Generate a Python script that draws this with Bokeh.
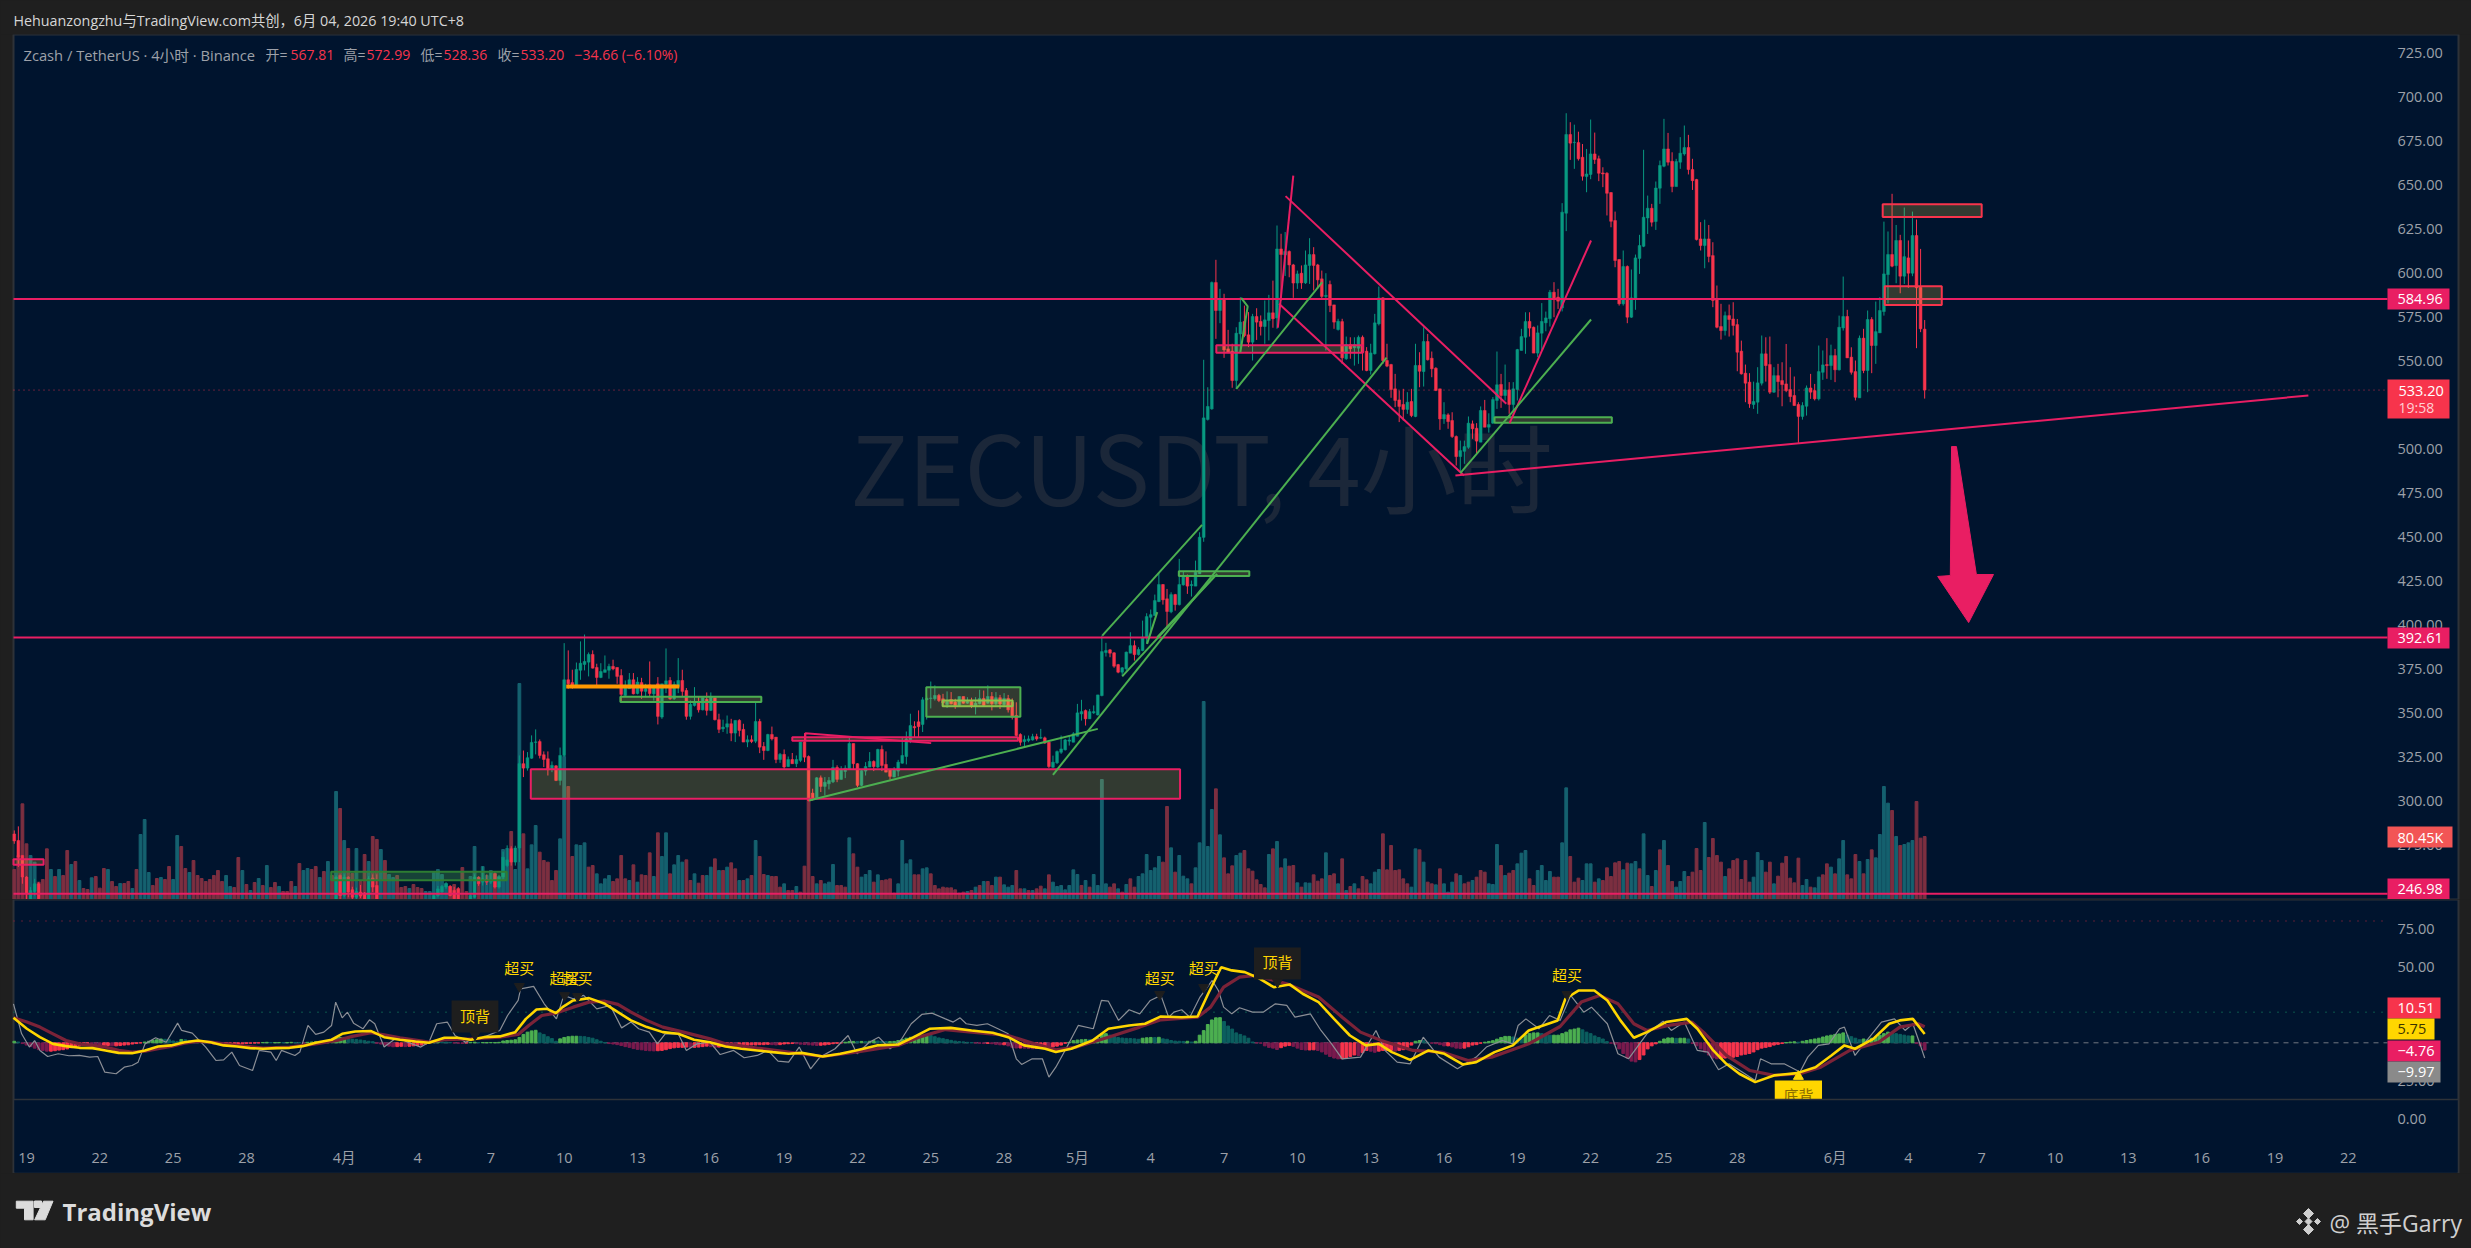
from bokeh.plotting import figure
from bokeh.layouts import column
from bokeh.embed import file_html
from bokeh.resources import INLINE
from bokeh.core.properties import value
from bokeh.models import (Range1d, LinearAxis, FixedTicker, PrintfTickFormatter, Label, Span)

# ---------- candles (bar index = 4h bars counted from 19 Mar 00:00) ----------
candle_bars = list(range(-3, 4)) + list(range(76, 87)) + list(range(100, 107)) + list(range(109, 467))
opens = [281,277.3,268.8,256.5,243.8,248.3,252.7,
 243,257.4,246,256.5,249.3,245,248,247.4,243.8,256,251.7,
 243.8,246,248,250.8,251.2,248.9,249.8,
 243.8,245,256.5,253.6,255.1,253.6,258.4,250.8,256.5,263,272.6,265,
 273,320.9,318.4,324,333,333.5,326,323.7,317.6,319.7,
 311.4,325.6,368.6,367,365,374,377.3,378.6,383,375.6,
 369.9,372.8,374,376.2,375.6,371,359.7,363.5,368.6,360.8,
 367,362,365.7,360.6,366.3,347.4,366,368.2,357.8,364.8,
 368.2,362.5,347.8,354,356.3,351.5,357.4,351.2,358.4,345.9,
 340.7,341.7,343.6,338.3,345.5,340.4,333.2,334.5,333.7,344.9,
 330.7,328.4,337.5,336,323.3,326.2,319.3,323.3,320.9,322.8,
 333.2,325,304.2,301.5,312.9,308,309.5,310.6,318.8,312,
 316.5,317.6,332.4,320.9,308.6,316.7,319,322.2,319,329,
 320.5,317.6,313.3,316.7,321.2,325,334.5,342,344.7,343.2,
 357.2,358,357.8,359.7,357.8,354.6,357.4,355.9,354,359.1,
 355.3,356.3,353.5,355,358,355.3,359.1,355,358.4,354.5,
 358,355.8,348.3,337.5,333.5,334,334.4,336.3,335.4,335.6,
 333.1,318.9,321.4,327.4,328.8,333.7,333.1,336.5,349.2,351.1,
 346.4,349.8,348.6,359.6,384.1,385.6,383.9,377.2,372.9,374.8,
 383.7,388,382.9,385.2,392.4,404.1,405.1,413,422.7,414.6,
 407.2,417,411.3,422.5,427.4,422.1,421.8,428.8,449.5,516.5,
 522.5,594.3,578.4,585,556.6,555.3,538.6,565.1,572.2,564.6,
 560.4,575,572.2,569.3,572.7,577.1,574.2,613.4,610,612,
 604.3,594,599.6,594.1,604,610.2,604.3,596.4,586.4,593.2,
 581.6,567.6,572.1,551,559.1,557.2,557,563.2,555.3,544.3,
 553.8,570.8,585.6,550,547.7,533.9,527.6,525,522.2,526.7,
 518.2,547.2,543.7,560.8,551.3,545.6,533.9,516.8,519.1,515.9,
 506.8,495.4,498.4,500.7,514,511.5,503.6,521.6,512.1,514.4,
 527.3,536.4,530.1,533.3,525,533.5,555.7,563.2,572.2,568.9,
 554.2,565.5,571.4,573.8,588.8,586,579.9,633.7,678.4,673.8,
 673.8,665.5,654.5,655.7,667.4,664.6,656.6,656.4,645.4,629.5,
 607.4,582.2,603.4,574.6,585,608,614.9,631,636.5,629,
 647.9,660.4,670.2,663.2,648.8,662.7,667.4,671,658.5,652.8,
 619.1,615.3,619.1,609.6,585,569.3,567,575.5,573.6,570.4,
 555.3,542.8,537.7,525,526.3,537.1,553.8,547.7,532,541.4,
 538.6,536.7,533.5,530.1,525,518.2,524,534.4,532.9,528.2,
 543.3,547.7,547.1,552.8,544.7,568.5,575,551.9,543.7,528.8,
 562.7,544.3,573.3,558.5,565.7,577.8,598.8,610.2,603.9,618.2,
 597.9,608.3,599.6,621,591.6,567.81]
highs = [283,285.3,268.8,257,250.8,255.5,253.6,
 257.4,258,258,257,251,250.5,252,248,257,258,258,
 247,251.5,252,253.6,252,251,250.8,
 247,258,257,262.5,258,258.7,259.5,257.7,271,274.5,274,274.3,
 325.6,328.4,327.5,337,340.4,334.7,327.9,327.9,322.2,320.1,
 330.1,389.4,385.3,374.3,378.4,390.4,394.3,384.1,385.3,377.7,
 378,382.4,377.7,380,375.6,374.6,368.2,372.4,372.4,370.1,
 369.7,366.3,379,365.4,370.1,366.3,386.4,370.1,367.6,380.9,
 374.3,363.9,356.8,364.4,359.1,358.4,361.4,361.4,358.4,349.3,
 345.9,348.3,346.4,345.5,346.2,343.6,337,337,355.9,346.4,
 333.2,337.9,342,336,327,329,325,327,325.6,333.2,
 338.3,325.6,306.7,313.3,314.2,313.3,313.3,323.1,320,319.5,
 320,336.4,332.4,321.2,317.4,321.8,327.5,322.8,329.4,331.3,
 327.9,318,319,323.1,335.6,339.2,349.3,345,351.2,358.7,
 359,367.6,365.4,360.6,360.6,362,361.6,357.8,359.1,359.1,
 358.7,358.4,358.7,362.9,362.5,365.4,361.6,361.6,360,361,
 360,358,355.8,338.2,336.9,336.9,337.9,337.9,340.7,336.3,
 333.1,325.5,328.4,336.9,335,336.9,338.8,354.9,357.2,351.7,
 352,354,360,393.7,389.6,386.1,384.3,377.6,375.8,384.6,
 395.6,390.9,387.1,402.2,406.4,408.5,417,429.1,423,420.2,
 418.3,417.4,437.3,430.3,428.4,425,436.3,452.4,550.4,534.8,
 594.9,607.2,590.7,587.9,567.4,559.5,568.9,586,581.2,577.5,
 576.5,579.7,575.6,584.1,587.3,595.4,626.7,622,623,612.5,
 604.9,601.1,604,612.5,619.5,614.4,604.9,601.1,599.6,595.4,
 581.6,573.7,573.7,563.6,563.2,563.2,564.2,564.2,557.6,559.5,
 576.5,592,586,559.5,548.1,542.4,532.9,533.9,532,533.9,
 559.5,554.7,568.9,565.1,555.1,546.2,533.9,526.3,520,520.6,
 507.4,504.5,504.5,518.2,515.9,514.4,523.9,527.6,520,529.2,
 555.1,542.4,547.7,537.7,537.7,556.6,568,577.4,577.4,569.3,
 569.9,582.6,577.8,590.1,594.5,590.7,639.4,690.5,685.4,684,
 680,673,670.2,686.9,679.5,666.4,659.8,657,645.6,634.6,
 607.4,612.5,604,601.7,610.2,621.4,669.7,643.7,639,651.7,
 663.6,687.3,679.3,668.3,664.6,676.9,683.5,678.2,664.6,653.2,
 628.6,630,627,617.2,592.6,582.2,577.8,581.8,583.1,573.6,
 561.3,547.7,542.8,538,546.2,564.2,563.2,563.6,546.2,548.1,
 549,559.4,546.2,540.9,526.3,526.3,535.8,542.4,536.7,558.5,
 555.7,562.7,559,556.6,575.5,597.7,578.8,557.5,550,564.2,
 568,578.4,574.6,583.5,586,628.9,623.3,644.7,627,621.4,
 636.9,618.2,634.6,630.1,613.4,572.99]
lows = [275.4,262.2,252.7,243,243,246,243.5,
 243,243.8,245,245,244,244,244.5,243,243,248,243,
 243,245,247,249.8,245.5,243.5,243,
 243,244.5,251.5,251.7,252,252.5,250,250,255,262.1,263,263,
 265,313.3,317,323.7,326.2,323.9,319,314.2,316.1,311,
 308.6,325,363.5,363.5,365,368.6,373.9,370.5,375,364.8,
 369.5,372.8,369.2,374,366.3,355.9,359.1,363.5,360.3,360.3,
 357.8,358.7,359.1,356.8,343.2,346.4,361,357.2,357.2,361,
 359.1,345.9,346,353.4,350,351.2,348.3,350.8,345.5,338.3,
 338.9,337.9,333.7,333.2,336.4,333.2,330.3,332.6,332.6,326.9,
 323.1,328,334.1,321.2,321.4,318,319,320.9,319,321.8,
 321.8,299.5,300,301,304.8,302.9,306.3,309.9,310.4,311.8,
 312.7,317.6,317.6,307.6,308.2,314.2,319,316.7,318.4,316.7,
 316.1,311.8,313.3,313.7,320.9,320.5,332.6,336,336,338.9,
 346,352.3,356.8,355.9,353.4,352.6,354.6,352.1,353.4,355,
 355,352.5,348.9,354.6,353.4,355,351.2,354,352,353,
 350,346,336.3,331.2,330.7,333.1,334,334,335,332.2,
 318.5,318.5,320.8,326.5,328.4,331.2,333.1,336.5,345.4,342.6,
 346.4,349.2,348.3,359.2,381.8,381.4,375.4,372.3,371,373.8,
 383.7,379.5,382.4,384.8,389,394.7,405.1,412.7,411.3,398.5,
 406.4,407.9,410.8,422.1,417.4,415.9,421.8,428.8,447,515.9,
 522,562.3,571.2,551.5,554.2,534.5,533.9,554.7,563.2,557.6,
 550,561.7,564.2,559.5,561.4,568.6,568,584,598,597.3,
 585.6,590.7,590.7,593.5,593.5,589.8,590.7,584.5,555.7,577.5,
 568,567,548.1,550.4,551,547.1,548.1,544.3,543.9,542,
 553.4,569.9,548.1,546.2,528.8,523.5,515,515.9,519.7,517.8,
 517.8,534.8,535.2,550,540.5,532.6,510.6,514,511.2,506,
 490.3,486.5,491.3,499.8,505.5,497,503.6,512.1,509,514,
 522.5,523.1,527.3,519.7,520.6,527.3,555.7,553.8,563.6,554.2,
 551.9,555.7,566.6,569.3,574.6,579.3,577.9,623.5,664,658.9,
 663.6,652.2,645.6,653,661.7,651.9,648.5,632.4,625.7,603,
 581.2,581.2,571.2,574.2,578.8,599.2,614.4,621.9,626.1,624.2,
 639,659.8,660.8,645.6,648.8,658.9,666.4,655.7,646.9,618.2,
 612.5,602.4,605.8,580.3,568.3,561.9,564.2,563.6,564.2,543.9,
 542,526.3,523.1,522.5,519.7,535.8,538,531,531.6,529.1,
 524,532,526.3,524.4,503.2,516.4,518.7,528.2,527.3,527.3,
 539,539.6,539,537.7,544.3,567,551.5,542,527.3,528.8,
 542.8,532,542.8,548.1,565.7,575.5,582.5,603,593.9,588.2,
 593.5,591.3,597.9,557,566.1,528.36]
closes = [277,267.8,256.5,247,248.9,252.7,244.2,
 256.5,246,256.5,248,245,248.3,245.7,243.8,255.5,250.8,243.8,
 246,249.8,251.2,252.7,246,244.2,243.8,
 246,256.5,252.7,255.5,253.6,255.1,250.8,256.5,267.8,266.3,265,273,
 321,318.4,324.3,333,333.3,325.6,323.3,317.5,320,311.4,
 325.6,368.6,366.3,364.8,374.5,378,379,383,375.2,369.9,
 373.3,374.3,376.2,374.8,370.5,360.3,363.9,368.6,360.6,367.3,
 362.1,363.5,360.8,365.4,347.8,366.3,368,357.8,366,368.2,
 362,347.8,354.6,356,351.5,358.4,351.2,358.7,345.9,340.4,
 341.7,343.6,338.3,345.5,339.8,333.2,334.5,333.5,344.9,330.3,
 328.4,337.5,335,323.3,326.2,319,323.3,320.9,323.3,333.2,
 324.6,300,301,312.9,308,310.4,311.4,318.8,312,317.8,
 318.4,332.4,320.9,308.6,317,319.3,322.2,319.3,329,319.9,
 316.1,313.7,317.6,321.8,325.6,335,342.6,341.3,342,357.2,
 358,358.2,359.7,356.8,355.5,356.3,355,354,359.1,355.3,
 356.3,353.4,355.3,358,354,359.1,355,358.4,354.9,358,
 351.5,347.3,336.9,333.1,334.6,335,336.3,335,335.8,332.6,
 319.3,321.8,327.8,329.3,334.4,334.4,337.9,349.8,350.5,346.4,
 350.5,350.5,360,384.6,385.2,383.7,376.3,372.9,375.4,384.3,
 388,382.9,385.8,392.8,404.5,405.6,413.6,422.7,414,407.4,
 417,411.3,422.7,427.8,421.8,422.7,429.7,449.6,517.4,523.9,
 594.3,578.4,585,556,554.5,538.6,565.5,571.8,564.2,560.4,
 575,571.8,569.3,573.1,577.1,573.7,613.4,610.2,612,604.3,
 594,599.2,594.1,604.3,610.2,604,595.8,586.4,587,581.2,
 571.8,572.3,551.5,559.1,556.6,559.1,563.2,554.7,544.3,554.3,
 571.4,585.6,550,546.8,533.5,527.3,523.9,522.2,526.3,518.7,
 547.2,543.9,560.8,550.4,545.3,533,516.8,519.3,515.3,506.8,
 495.4,498.8,501.1,514.4,511.2,504.2,521.6,512.1,513.6,527.8,
 536.2,530.1,533.3,525,533.9,556.2,563.6,572.2,568.4,554.2,
 565.7,572.2,574.2,588.8,585.4,583.7,634.3,678.4,673.5,674,
 664.6,654.7,656,667.4,664.2,656.4,656,645,629.1,606.8,
 582.2,603.4,574.6,585.6,608.3,615.3,631.4,636.5,628.6,648,
 660.8,670.2,662.7,648.8,663,667.8,671,658.5,652.2,618.7,
 615.3,619.1,609.1,584.1,568.9,567,575.5,573.3,569.9,554.7,
 542.4,537.1,525.4,526.7,537.3,553.8,547.1,532,541.4,538,
 536.3,532.9,529.5,524.4,518.2,524.4,534.4,532,528.2,543.7,
 547.5,547.1,552.8,544.7,568.9,575,551.5,543.3,529.1,562.7,
 544.3,573.3,558.5,566.4,578.4,599.2,610.2,603.6,618.2,597.9,
 609,599.6,621,591.3,568,533.2]

VOL_K_PER_READ = 80.45 / 189
volume_read = [-90,-132,-287,-167,132,112,-52,-60,-152,90,
 -69,90,-72,-147,105,-114,57,-33,-30,65,
 -69,-34,-93,90,-54,-39,48,-48,-54,33,
 -90,195,240,81,-42,-63,66,-60,-99,60,
 192,-159,-93,81,-117,-72,-63,-54,-60,-72,
 -87,-54,72,39,-36,-126,87,-45,27,-51,
 63,-42,102,-36,-51,39,-24,-24,-54,39,
 -108,87,93,-90,-99,66,-84,114,-72,324,
 -273,177,-153,-78,153,-54,-135,114,-189,-180,
 150,-117,75,66,-72,-36,-39,33,-45,-36,
 -33,24,24,81,90,75,48,-39,-45,-33,
 -96,-24,69,159,-66,99,72,87,-78,69,
 150,153,-204,90,648,
 -197,92,164,222,-142,-117,-112,-57,-87,182,
 429,-339,-129,164,162,170,-97,-102,77,47,
 62,72,-54,-62,-132,-62,57,-104,52,-74,
 -72,-140,69,-200,129,200,-77,104,132,112,
 -119,-57,77,-49,-72,72,97,-122,87,-87,
 97,-110,-92,57,-57,62,-72,177,-129,-75,
 72,-69,-69,-37,47,-27,-27,39,-22,-100,
 -297,-69,47,-57,47,52,105,-42,-42,-37,
 185,-137,-97,67,75,87,-52,74,-57,-59,
 -62,-19,47,177,107,119,-74,-74,92,95,
 -77,-42,-32,-37,-35,-35,-29,-19,-22,24,
 -27,37,-42,54,-54,-42,67,-67,44,37,
 42,-87,-32,32,-27,27,-32,-40,32,-74,
 52,39,42,29,42,89,75,-42,57,-37,
 75,42,
 360,47,-37,-47,32,-22,45,-62,-37,69,
 77,135,87,95,129,-112,-279,155,-82,132,
 70,62,-47,95,170,594,159,270,-332,194,
 -125,-77,-101,132,139,-147,-92,-85,-59,-45,
 -35,135,-152,174,-95,122,-100,-102,50,-37,
 50,49,-74,-55,-62,140,-72,-77,47,-122,
 27,-39,47,-32,-69,-59,47,82,90,-197,
 -89,-162,-87,-89,-62,-47,37,152,-149,112,
 -52,-47,44,-92,47,22,52,-77,72,-47,
 -52,57,-67,-87,-82,47,45,165,-102,72,
 -79,-87,107,139,147,-62,-42,87,102,57,
 84,-67,-67,170,335,-129,-52,-64,57,107,
 107,-52,62,-57,-95,-69,-110,-114,89,-109,
 107,114,-92,197,
 72,-39,87,-149,177,-102,-54,37,54,84,
 -69,-82,-153,-87,231,-126,-183,-132,-112,69,
 -92,-117,-122,-60,-117,-52,67,141,117,-82,
 -112,47,-70,-109,-129,-64,-50,-124,42,60,
 -37,35,67,-74,-107,97,-77,122,177,-74,
 -62,-135,114,-77,120,-149,125,195,339,289,
 -267,189,-162,165,170,177,-294,-184,-189]

# ---------- oscillator ----------
signal_bars = [-3.2,0.1,3.3,6.5,9.7,13,16.2,19.4,22.6,25.9,29.1,32.3,35.5,38.8,42,45.2,48.4,51.7,54.9,58.1,61.3,64.6,67.8,71,74.9,77.5,80.7,84.6,87.8,91.7,95.5,98.8,102.6,105.8,109.1,112.3,116.2,120,122.6,125.2,127.8,130,131.6,134.2,138.1,142,145.2,148.4,152.3,156.2,160,163.9,167.8,171.6,175.5,179.4,183.2,187.1,190.3,195.5,
 199.8,203.6,208.8,214,217.8,221.7,226.9,232,237.2,241,244.9,250.1,252.7,256.5,261.7,265.6,270.7,274.6,278.5,283.6,287.5,290.1,293.3,295.9,299.1,302.3,306.2,310.1,313.3,317.2,321,324.9,328.8,332,335.2,339.7,344.2,348.1,352.6,355.9,360.4,364.9,368.8,375.9,377.8,381,384.9,388.1,391.3,394.6,397.8,
 402.5,407.6,410.2,414.1,417.3,420.5,424.4,429,434.7,439.2,443.1,446.3,448.9,453.4,457.3,459.9,463.1,466]
signal_vals = [16.4,9.2,3.7,-0.7,-2.2,-3.3,-3.5,-5,-6.6,-6.8,-5,-2.4,-1.7,0.4,1.5,0.4,-1.7,-2.4,-3.5,-3.9,-3.5,-3.3,-2.2,0,2,5.9,7.4,7.7,3.7,2,0.9,0,3.3,3.3,2,3.7,4.2,7,15.7,21.9,22.3,19.5,23.4,27.8,29.3,25.6,20.1,14.7,10.3,7,5.9,2,0.4,-2.4,-3.9,-5,-6.1,-7.2,-6.6,-9,
 -7.2,-5,-1.7,-1.1,3.7,9.2,9.8,8.1,6.6,3.7,-1.7,-3.9,-6.1,-3.9,1.5,9.2,11.4,12.5,17.3,16.8,17.3,32.2,49.6,47.5,46.4,42.7,36.5,38.3,32.2,26.7,15.7,4.8,-1.7,-0.7,-6.1,-11.2,-5,-7.2,-14.2,-12.7,-6.1,-1.7,8.1,14.7,28.9,34.3,34.3,27.8,14.7,3.3,7,
 13.6,15.7,9.2,-5,-13.8,-20.3,-25.8,-21.4,-19.9,-16,-8.3,-1.7,-3.9,2.6,12.5,14.7,15.7,5.75]
slow_bars = [-3.2,0.1,3.3,6.5,9.7,13,19.4,22.6,25.9,29.1,32.3,35.5,38.8,42,45.2,48.4,51.7,58.1,64.6,71,76.2,80,84.6,87.8,91.7,98.8,102.6,109.1,116.2,120.7,123.3,126.5,130,134.2,138.1,142,145.2,148.4,152.3,156.2,161.3,167.8,171.6,179.4,187.1,195.5,
 203.6,214,219.1,225.6,232,241,247.5,252.7,257.8,265.6,273.3,278.5,287.5,290.7,293.9,297.8,301.7,309.4,317.2,323,327.5,332.6,340.4,347.5,353.9,359.7,368.8,376.5,381.7,386.2,390.7,394.6,397.8,
 403.1,408.9,412.1,417.3,423.1,429,435.4,440.5,447.6,454.7,459.9,464.4,466]
slow_vals = [16.4,13.6,10.3,5.9,1.5,-0.7,-2.8,-5,-6.1,-5.5,-3.9,-2.4,-0.2,0.9,0.4,-0.7,-1.7,-3.5,-2.8,-0.7,1.5,4.2,6.6,5.2,3.3,0.4,2,2.6,3.7,5.5,11.4,17.9,19.5,23.4,26.7,27.3,25.2,20.1,14.7,10.3,7,2.6,-0.7,-3.5,-6.1,-9,
 -6.1,-1.7,3.7,8.7,7,4.8,-0.7,-4.6,-2.8,3.7,10.3,15.1,16.8,23.4,36.5,43.1,44.2,38.7,30,16.8,7,1.5,-5,-6.1,-11.6,-9.4,-0.7,10.7,26.7,31.1,25.6,12.5,8.1,
 11.4,13.6,5.9,-8.3,-18.2,-21.4,-20.3,-16,-5,0.4,10.3,12.5,10.51]
fast_bars = [-3.2,-1.2,0.7,2,3.3,5.2,7.8,10.4,13,15.5,17.5,19.2,22,24,25.9,27.4,29.1,31.7,34.3,37.1,38.1,40.7,44,46.5,48.4,50.4,52.3,55.5,57.1,60,61.3,62.6,65.9,67.1,69.1,71,73,74.9,75.9,77.5,78.8,80.3,82.6,84.2,85.5,87.8,91,93.6,96.8,98.8,100.7,103.3,105.2,107.8,109.1,112.3,116.2,118.1,120.7,121.3,124.5,127.1,130.1,131.9,134.2,136.8,140,143.3,146.1,148.4,150.3,152.9,154.9,156.8,160,162,164.6,167.8,170.3,173.6,176.2,179.4,182,184.5,187.1,189.7,192.5,194.8,
 198.5,201.7,203.9,206.9,209.2,212,214.6,217.2,219.8,222.3,225.6,227.5,229.2,230.7,233.3,235.9,238.5,241,243,244.3,246.9,249.4,251,252.7,255.2,258.2,261.9,263.9,265.6,268.1,270.7,273.3,275.9,278.5,280.4,281.7,283.6,285.6,288.1,291.1,292.6,293.9,295.9,297.8,301,303.6,306.6,309.4,311.4,315.2,317.8,320.4,323,327.5,331.3,333.5,336.5,339.7,342.9,346.8,351.3,355.9,358.4,362.3,364.9,366.2,368.1,371.3,373.9,376.5,379.1,382.3,384.2,388.1,390.7,393.3,397.8,
 401.8,403.8,407,410.2,412.8,415.4,418,421.2,424.4,425.7,428.3,431.5,435.4,437.3,439.9,442.5,445.1,446.3,448.9,452.1,455.4,458.6,461.2,463.1,465.1,466]
fast_vals = [25.6,5.9,-2.8,1.5,-5,-9,-7.2,-8.5,-8.3,-9.4,-9,-19.2,-20.3,-16,-14.9,-12.7,-0.7,3.3,0.4,12.9,8.1,6.3,-2.8,-11.6,-11.2,-6.1,-14.9,-18.2,-5,-6.1,-11.6,-5,-8.3,-6.1,11.4,5.5,7,11.4,26.7,16.4,20.1,12.9,9.2,15.1,12.5,-2.8,3.7,0.4,-2.8,0.4,12.5,13.6,4.8,0.4,2,3.7,8.1,17.9,27.8,35.4,37,25.6,15.7,31.1,28.9,31.1,22.3,24.5,9.8,13.6,9.2,7,-0.7,5.9,5.9,-5,-0.7,0.4,-7.7,-5,-9.8,-8.3,-5,-12,-12.7,-2.8,-17.1,-9.4,
 -3.9,4.8,-7.2,0.4,3.7,-3.9,1.5,12.5,18.6,19.5,15.7,13.6,16.4,12.5,11.4,12.5,9.2,5.9,-10.5,-14.2,-10.5,-10.5,-22.5,-16,-3.9,11.4,9.2,27.8,27.3,14.7,21.7,19,27.8,31.1,16.8,20.1,21.7,16.8,30,40.9,34.3,23.4,19,23,20.1,20.1,25.6,24.5,16.8,19,8.1,-0.7,-10.5,-9.4,8.1,-5,-12.7,-13.8,3.7,-9.4,-17.1,-9.4,-2.8,1.5,-0.7,11.4,15.7,9.2,17.9,14.7,31.1,20.1,23.4,12.5,-7.2,-10.5,5.9,
 14.2,8.1,13.6,-5,-6.1,-17.7,-13.8,-19.2,-24.7,-10.5,-13.8,-13.8,-19.2,-9.4,-1.7,-0.7,9.2,10.3,-8.3,2.6,13.6,15.7,8.1,12.5,-2.8,-9.97]
hist_vals = [1,0.5,-0.5,-1.5,-2.5,-3.5,-4.5,-5,-5.5,-5.5,-5.2,
 -4.8,-4.5,-4,-3.2,-2.5,-2,-1.8,-1.6,-1.8,-2,-2.2,-2,-1.8,-2,-2,-1.8,-1.5,-1.3,-0.8,-0.5,-0.1,
 0.5,1,1.6,2,2.5,2.3,2,1.2,0.7,2.2,2,1.5,1,0.6,0.2,0.1,-0.3,-1,-1.2,-1.5,-1.3,-1.2,-1.1,-1,-0.7,-0.5,-0.3,-0.2,-0.1,
 0.2,0.3,0.2,0.2,0.2,0.1,0.2,0.3,0.2,0.1,-0.1,0.3,0.5,0.7,0.9,1,1.2,1.4,3,3.5,3.5,2.8,2.4,2.1,1.8,1.4,1,0.7,
 -0.3,-0.8,-1.5,-2.2,-2.6,-2.5,-2.3,-2.5,-2.3,-2,-1.7,-1.5,-0.8,0.2,0.5,0.6,0.5,0.4,0.2,-0.1,-0.3,-0.4,-0.1,0.3,0.4,0.2,0.2,0.2,0.2,0.2,0.3,
 1.2,1.5,1.7,2,3.5,5.5,7,7.8,8.2,6.5,5.5,4,2.8,1,2.6,3.5,4,4.3,4.3,4.2,4,3.5,3,2,1,0.2,-0.5,
 -0.8,-1.2,-1.8,-2.5,-3,-3.8,-4.3,-4.6,-5,-5.2,-5.3,-5.2,-5,-4.5,-3.8,-3.3,-3,-3,-2.8,-3,-3,-2.8,-2.5,-2.2,-2.5,-3,-2.8,-2.4,-1.9,-1.6,-1.8,-1.8,-1.7,-1.6,-1.4,-1.4,-1.2,-1.2,-1,-1.2,-1.4,-1.2,-0.8,-0.6,-0.5,-0.6,-0.9,-1.1,-1.3,-1.5,-1.7,-1.6,
 -1.4,-1,-0.6,-0.3,-0.1,0.4,0.8,0.9,0.8,0.9,0.8,1,1.4,1.2,0.9,0.8,0.8,0.9,1.5,2.2,3,3.6,4.2,4.8,4.8,5,4.8,4,3.2,2.7,2.2,1.6,1.1,0.8,0.6,0.3,0.1,-0.1,-0.3,-0.5,-0.4,-0.6,-1,-1.3,-1.3,-2,-3,-3.4,-3.4,-3.5,-3.7,-3.9,-3.7,-3.3,-2.6,-2.8,-2.7,-2.2,-1.5,-0.3,0.3,1.4,1.8,2,2.2,2,2.2,3,5.9,6,5,4.3,3.4,3.1,2.9,2.8,2.6,2.3,3,3.3,3.5,3.4,3.6,2.6,2.3,1.5,1.1,1,0.9,1,0.5,1,5,8,12,15,16.4,16.5,14,11,9,6.5,5.5,4.5,3,0.5,-0.1,-0.3,-2,-3,-3.5,-4.4,-3.2,-2.2,-1.8,-2.3,-3.5,-4.4,-4.7,-4.7,-4.6,-5,-6,-7.5,-9,-10,-10.5,-10.5,-10,-9,-8,-8.3,-6.5,-5,-5.5,-6.2,-5.5,-5,-5,-5,-5.5,-5,-4.5,-3.2,-1.5,1,1.5,1.4,0.3,-0.3,-0.6,-1.2,-2,-2,-2.7,-3.5,-3.7,-3.5,-2.6,-1.5,-1.2,-0.3,0.4,0.9,1.4,2.4,3.5,4.2,4.2,3.8,3,2.6,5,6,6.5,6.5,6,5.5,5,5,5,6,7,8.5,9,9.6,8.5,7,6,4.5,3.5,2.5,0.8,-0.3,-1,-4,-7,-10,-12,-12.5,-11,-8,
 -4,-2,-0.7,1,2.5,3.2,3.2,2.9,3,3,2.5,-0.5,-2,-4,-6,-8,-10,-10.5,-10.5,-10,-9.8,-9.5,-9,-8,-7.5,-7,-6,-4.5,-3.5,-3,-2.5,-1.5,-1,-0.5,0.2,0.5,0.7,0.4,1,1.5,2,2.5,3,3.8,4.5,5,5.5,5.8,6.5,5,4,3,2,2.5,2,3,4,5,6,7,6.5,6,5.5,5,4.5,4.5,-0.5,-2,-4.76]

# ---------- chart drawings in (bar, price) ----------
level_prices = [584.96, 392.61, 246.98]
last_close = 533.20
box_left = [123.8,145.8,220.9,224.9,188,282.9,292.1,360.4,455.7,456.2,-3.2,74.8]
box_right = [283.2,180.4,244,242.1,243.4,300.2,328.1,389.2,480,470.2,4.2,117.9]
box_top = [317.8,358.9,364.4,356.8,336,430.3,558.7,517.8,638.8,592.2,266.6,259.5]
box_bottom = [301,356,347.6,353.6,334,427.6,554.4,514.6,631.6,581.6,263.5,254.7]
box_line = ["#e91e63","#4caf50","#4caf50","#8bc34a","#e91e63","#4caf50","#e91e63","#4caf50","#f7344c","#f7344c","#e91e63","#2e7d32"]
pink_lines_x = [[191.2,191.2,222.1],[309.1,363.3],[307.5,352.9],[307.2,311],[350.8,560.2],[364.1,384.1]]
pink_lines_y = [[333.5,338.2,332.6],[643.4,525.4],[582.2,484.7],[568.6,655.1],[484.7,530.1],[514.4,618.2]]
green_lines_x = [[192.1,263],[252,333.9],[264.1,288.6],[269,292.3],[277.6,291.5],[275.1,277.6],[297,318.1],[298,299.8,298.2],[352,384.1]]
green_lines_y = [[300,340.7],[314.6,551.7],[393.7,456.6],[370.5,428.8],[392.8,426.9],[389,407],[533.9,594.5],[554.7,580.7,585.6],[486,573.3]]
orange_x = [132.5, 160.3]
orange_y = [364.8, 364.8]
arrow_x = [472.6,473.8,478.7,482.9,476.8,469.2,472.3]
arrow_y = [501.1,501.1,428.4,428.4,401.1,427.3,427.8]

# ---------- pane texts ----------
price_ticks = [250,275,300,325,350,375,400,425,450,475,500,525,550,575,600,625,650,675,700,725]
osc_ticks = [75,50,25,-25,-50]
osc_tick_text = {75:"75.00",50:"50.00",25:"25.00",-25:"25.00",-50:"0.00"}
time_ticks = [0,18,36,54,78,96,114,132,150,168,186,204,222,240,258,276,294,312,330,348,366,384,402,420,444,462,480,498,516,534,552,570]
time_text = ["19","22","25","28","4月","4","7","10","13","16","19","22","25","28","5月","4","7","10","13","16","19","22","25","28","6月","4","7","10","13","16","19","22"]
overbought_bars = [121,132.1,135.3,278.2,289,378.2]
overbought_text_vals = [49.4,42.8,42.8,42.8,49.4,44.8]
overbought_mark_vals = [37,31,30.4,31.7,36.3,31.7]

BG = "#00142e"
OUT = "#1f1f1f"
TXT = "#9da1a9"
UP = "#089981"
DOWN = "#f7344c"
EDGE = "#2e3238"
FONT = "Open Sans, Noto Sans CJK SC"
CJK = "Noto Sans CJK SC"

# pane geometry helpers for chrome (tags, captions), from page pixels to data
def bx(sx): return (sx - 26) / 4.0733
def py(sy): return 500 - (sy - 448) / 1.76
def oy(sy): return (1042.3 - sy) / 1.524

x_range = Range1d(bx(0), bx(2471))
p1 = figure(width=2471, height=865, x_range=x_range, y_range=Range1d(py(899), py(34)),
            x_axis_location=None, y_axis_location=None, toolbar_location=None, output_backend="svg", min_border=0)
p2 = figure(width=2471, height=274, x_range=x_range, y_range=Range1d(oy(1173), oy(899)),
            x_axis_location=None, y_axis_location=None, toolbar_location=None, output_backend="svg", min_border=0)
for p in (p1, p2):
    p.grid.visible = False
    p.background_fill_color = OUT
    p.border_fill_color = OUT
    p.outline_line_color = None
p1.quad(left=[bx(13)], right=[bx(2458)], top=[py(34)], bottom=[py(899)], fill_color=BG, line_color=EDGE, line_width=2)
p2.quad(left=[bx(13)], right=[bx(2458)], top=[oy(899)], bottom=[oy(1173)], fill_color=BG, line_color=EDGE, line_width=2)

# header and footer bands, in page pixels
top_band = figure(width=2471, height=34, x_range=Range1d(0, 2471), y_range=Range1d(34, 0), x_axis_location=None,
                  y_axis_location=None, toolbar_location=None, output_backend="svg", min_border=0)
bot_band = figure(width=2471, height=75, x_range=Range1d(0, 2471), y_range=Range1d(1248, 1173), x_axis_location=None,
                  y_axis_location=None, toolbar_location=None, output_backend="svg", min_border=0)
for p in (top_band, bot_band):
    p.grid.visible = False
    p.background_fill_color = OUT
    p.border_fill_color = OUT
    p.outline_line_color = None

top_band.text([13], [20], text=["Hehuanzongzhu与TradingView.com共创，6月 04, 2026 19:40 UTC+8"], text_font=value(FONT),
              text_font_size="14.3px", text_color="#d6d6d6", text_baseline="middle")

# main pane ---------------------------------------------------------------
p1.text([bx(1201)], [py(464)], text=["ZECUSDT, 4小时"], text_font=value(CJK), text_font_size="96px",
        text_color="#1b2739", text_align="center", text_baseline="middle")

p1.extra_y_ranges = {"vol": Range1d(0, 865 * 1.277)}
vol_x = list(range(-3, -3 + len(volume_read)))
vol_k = [abs(v) * VOL_K_PER_READ for v in volume_read]
vol_c = ["#15616f" if v > 0 else "#7c2f40" for v in volume_read]
p1.vbar(x=vol_x, top=vol_k, bottom=0, width=0.68, color=vol_c, y_range_name="vol")

cc = [UP if c >= o else DOWN for o, c in zip(opens, closes)]
p1.segment(candle_bars, lows, candle_bars, highs, color=cc, line_width=1)
p1.vbar(x=candle_bars, top=[max(o, c) for o, c in zip(opens, closes)],
        bottom=[min(o, c) for o, c in zip(opens, closes)], width=0.68, fill_color=cc, line_color=cc, line_width=0.5)

tag_x0 = bx(2387)
for lv in level_prices:
    p1.line([bx(13), tag_x0], [lv, lv], line_color="#e91e63", line_width=2)
p1.line([bx(13), tag_x0], [last_close, last_close], line_color="#f7344c", line_width=1, line_dash="1 4", line_alpha=0.8)

box_fill = ["#fad242"] * 10 + ["#fad242", "#4caf50"]
box_alpha = [0.2] * 11 + [0.3]
p1.quad(left=box_left, right=box_right, top=box_top, bottom=box_bottom, fill_color=box_fill,
        fill_alpha=box_alpha, line_color=box_line, line_width=2)
p1.multi_line(pink_lines_x, pink_lines_y, line_color="#e91e63", line_width=2)
p1.multi_line(green_lines_x, green_lines_y, line_color="#4caf50", line_width=2)
p1.line(orange_x, orange_y, line_color="#ff9800", line_width=4)
p1.patch(arrow_x, arrow_y, fill_color="#e91e63", line_color="#e91e63")

def style_axis(ax, standoff):
    ax.axis_line_color = None
    ax.major_tick_line_color = None
    ax.minor_tick_line_color = None
    ax.major_tick_in = 0
    ax.major_tick_out = 0
    ax.major_label_standoff = standoff
    ax.major_label_text_font = FONT
    ax.major_label_text_font_size = "14.5px"
    ax.major_label_text_color = TXT

ax1 = LinearAxis(fixed_location=bx(2395), ticker=FixedTicker(ticks=price_ticks),
                 formatter=PrintfTickFormatter(format="%.2f"))
style_axis(ax1, 2)
p1.add_layout(ax1, "right")

# right hand price tags: (text, top px, bottom px, right px, fill)
tags1 = [("584.96", 288, 309, 2449, "#e91e63", "#ffffff"), ("392.61", 627, 648, 2449, "#e91e63", "#ffffff"),
         ("246.98", 878, 899, 2449, "#e91e63", "#ffffff"), ("80.45K", 826, 847, 2452, "#f25555", "#ffffff")]
for t, a, b, r, f, c in tags1:
    p1.quad(left=[tag_x0], right=[bx(r)], top=[py(a)], bottom=[py(b)], fill_color=f, line_color=None, level="overlay")
    p1.text([bx(2397)], [py((a + b) / 2)], text=[t], text_font=value(FONT), text_font_size="14.5px", text_color=c,
            text_baseline="middle", level="overlay")
p1.quad(left=[tag_x0], right=[bx(2449)], top=[py(379)], bottom=[py(418)], fill_color="#f7344c", line_color=None, level="overlay")
p1.text([bx(2398)], [py(390)], text=["533.20"], text_font=value(FONT), text_font_size="14.5px", text_color="#ffffff",
        text_baseline="middle", level="overlay")
p1.text([bx(2398)], [py(407)], text=["19:58"], text_font=value(FONT), text_font_size="14px", text_color="#ffd0d5",
        text_baseline="middle", level="overlay")

legend_parts = [(23, "Zcash / TetherUS · 4小时 · Binance", TXT, "14.7px"), (265, "开=", TXT, "14px"), (290, "567.81", DOWN, "14px"),
                (343, "高=", TXT, "14px"), (366, "572.99", DOWN, "14px"), (420, "低=", TXT, "14px"), (443, "528.36", DOWN, "14px"),
                (497, "收=", TXT, "14px"), (520, "533.20", DOWN, "14px"), (574, "−34.66 (−6.10%)", DOWN, "14px")]
for sx, t, c, s in legend_parts:
    p1.add_layout(Label(x=bx(sx), y=py(54), text=t, text_color=c, text_font=FONT, text_font_size=s,
                        text_baseline="middle", text_align="left"))

# oscillator pane -----------------------------------------------------------
p2.line([bx(13), tag_x0], [80, 80], line_color="#7a2038", line_width=1.5, line_dash="1 7")
p2.line([bx(13), tag_x0], [20, 20], line_color="#0f6b55", line_width=1.5, line_dash="1 7")
p2.line([bx(13), tag_x0], [0, 0], line_color="#6f7680", line_width=1, line_dash="5 5")

hist_x = list(range(-3, -3 + len(hist_vals)))
hist_c = []
for k, h in enumerate(hist_vals):
    prev = hist_vals[k - 1] if k else h
    if h >= 0:
        hist_c.append("#4caf50" if h >= prev else "#0b5f5f")
    else:
        hist_c.append("#f7344c" if h >= prev else "#7a1a4d")
p2.vbar(x=hist_x, top=hist_vals, bottom=0, width=0.68, color=hist_c)

p2.line(fast_bars, fast_vals, line_color="#8b8f96", line_width=1.2)
p2.line(slow_bars, slow_vals, line_color="#7b2338", line_width=3.2)
p2.line(signal_bars, signal_vals, line_color="#ffd600", line_width=2.6)

p2.scatter(overbought_bars, overbought_mark_vals, marker="inverted_triangle", size=10, color="#1e1e1e")
p2.text(overbought_bars, overbought_text_vals, text=["超买"] * len(overbought_bars), text_font=value(CJK), text_font_size="15px",
        text_color="#ffd600", text_align="center", text_baseline="middle")

# 顶背 bubbles
for c_bar, top_v, bot_v, txt_v, tip_v in [(110.1, 27.8, 6.8, 17.9, 5.2), (307.1, 62.5, 41.5, 53.3, 39.8)]:
    p2.quad(left=[c_bar - 5.75], right=[c_bar + 5.75], top=[top_v], bottom=[bot_v], fill_color="#1e1e1e", line_color=None)
    p2.scatter([c_bar], [tip_v], marker="inverted_triangle", size=10, color="#1e1e1e")
    p2.text([c_bar], [txt_v], text=["顶背"], text_font=value(CJK), text_font_size="15px", text_color="#ffd600",
            text_align="center", text_baseline="middle")
# 底背 bubble, cut by the pane bottom
p2.quad(left=[429.2], right=[440.8], top=[-24.7], bottom=[-46.7], fill_color="#ffd600", line_color=None)
p2.scatter([435], [-22.1], marker="triangle", size=10, color="#ffd600")
p2.text([435], [-33.9], text=["底背"], text_font=value(CJK), text_font_size="15px", text_color="#8a6d00",
        text_align="center", text_baseline="middle")
p2.quad(left=[bx(14)], right=[bx(2457)], top=[oy(1099)], bottom=[oy(1172)], fill_color=BG, line_color=None)
p2.segment([bx(13)], [oy(1099)], [bx(2458)], [oy(1099)], line_color=EDGE, line_width=1.5)

ax2 = LinearAxis(fixed_location=bx(2395), ticker=FixedTicker(ticks=osc_ticks), major_label_overrides=osc_tick_text)
style_axis(ax2, 2)
p2.add_layout(ax2, "right")

ax3 = LinearAxis(fixed_location=oy(1147), ticker=FixedTicker(ticks=time_ticks),
                 major_label_overrides=dict(zip(time_ticks, time_text)))
style_axis(ax3, 0)
p2.add_layout(ax3, "below")

tags2 = [("10.51", 997, 1018, 2440, "#f7344c", "#ffffff"), ("5.75", 1018, 1039, 2434, "#ffd600", "#3a3200"),
         ("−4.76", 1040, 1061, 2440, "#e91e63", "#ffffff"), ("−9.97", 1061, 1082, 2440, "#8a8a8a", "#ffffff")]
for t, a, b, r, f, c in tags2:
    p2.quad(left=[tag_x0], right=[bx(r)], top=[oy(a)], bottom=[oy(b)], fill_color=f, line_color=None, level="overlay")
    p2.text([bx(2397)], [oy((a + b) / 2)], text=[t], text_font=value(FONT), text_font_size="14.5px", text_color=c,
            text_baseline="middle", level="overlay")

# footer band (page pixels) ---------------------------------------------------
LOGO = "#dcdcdc"
bot_band.patch([15.8, 32.6, 32.6, 24, 24, 15.8], [1200.7, 1200.7, 1219.3, 1219.3, 1207.7, 1207.7], color=LOGO)
bot_band.patch([34, 41, 41, 34], [1200.5, 1200.5, 1207, 1207], color=LOGO)
bot_band.patch([43, 52.5, 44.7, 34.2], [1200.7, 1200.7, 1219.3, 1219.3], color=LOGO)
bot_band.text([62], [1211], text=["TradingView"], text_font=value("Open Sans"), text_font_size="24px",
              text_font_style="bold", text_color=LOGO, text_baseline="middle")
for cx, cy, r in [(2308, 1213, 5), (2308, 1229, 5), (2299, 1221, 3), (2317, 1221, 3), (2308, 1221, 3.5)]:
    bot_band.patch([cx, cx + r, cx, cx - r], [cy - r, cy, cy + r, cy], color="#cfcfcf")
bot_band.text([2329], [1222], text=["@ 黑手Garry"], text_font=value(FONT), text_font_size="23px",
              text_color="#cfcfcf", text_baseline="middle")

layout = column(top_band, p1, p2, bot_band, spacing=0)
html = file_html(layout, INLINE)
html = html.replace("<head>", "<head><style>html,body{background:#1f1f1f;overflow:hidden}</style>", 1)
open("out.html", "w").write(html)
